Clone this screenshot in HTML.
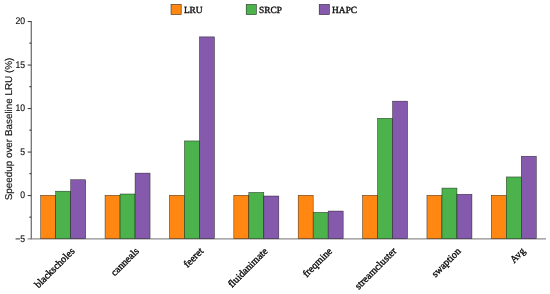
<!DOCTYPE html>
<html><head><meta charset="utf-8"><title>chart</title>
<style>
html,body{margin:0;padding:0;background:#fff;}
svg{display:block;text-rendering:geometricPrecision;}
.ax{font-family:"Liberation Sans",sans-serif;font-size:9.6px;fill:#111;stroke:#111;stroke-width:0.15px;}
.se{font-family:"Liberation Serif",serif;fill:#0a0a0a;stroke:#0a0a0a;stroke-width:0.35px;}
</style></head><body>
<svg width="550" height="294" viewBox="0 0 550 294">
<rect width="550" height="294" fill="#fff"/>
<line x1="27.6" y1="238.9" x2="546.0" y2="238.9" stroke="#8e8e8e" stroke-width="1.4"/>
<line x1="31.3" y1="20.9" x2="31.3" y2="239.3" stroke="#727272" stroke-width="1.3"/>
<line x1="27.7" y1="21.55" x2="31.3" y2="21.55" stroke="#444" stroke-width="1.1"/>
<line x1="29.4" y1="43.15" x2="31.3" y2="43.15" stroke="#444" stroke-width="1.2"/>
<text class="ax" transform="translate(25.1,24.05) scale(0.9,1)" text-anchor="end">20</text>
<line x1="27.7" y1="65.05" x2="31.3" y2="65.05" stroke="#444" stroke-width="1.1"/>
<line x1="29.4" y1="86.65" x2="31.3" y2="86.65" stroke="#444" stroke-width="1.2"/>
<text class="ax" transform="translate(25.1,67.55) scale(0.9,1)" text-anchor="end">15</text>
<line x1="27.7" y1="108.55" x2="31.3" y2="108.55" stroke="#444" stroke-width="1.1"/>
<line x1="29.4" y1="130.15" x2="31.3" y2="130.15" stroke="#444" stroke-width="1.2"/>
<text class="ax" transform="translate(25.1,111.05) scale(0.9,1)" text-anchor="end">10</text>
<line x1="27.7" y1="152.05" x2="31.3" y2="152.05" stroke="#444" stroke-width="1.1"/>
<line x1="29.4" y1="173.65" x2="31.3" y2="173.65" stroke="#444" stroke-width="1.2"/>
<text class="ax" transform="translate(25.1,154.55) scale(0.9,1)" text-anchor="end">5</text>
<line x1="27.7" y1="195.55" x2="31.3" y2="195.55" stroke="#444" stroke-width="1.1"/>
<line x1="29.4" y1="217.15" x2="31.3" y2="217.15" stroke="#444" stroke-width="1.2"/>
<text class="ax" transform="translate(25.1,198.05) scale(0.9,1)" text-anchor="end">0</text>
<text class="ax" transform="translate(25.1,241.55) scale(0.9,1)" text-anchor="end">−5</text>
<rect x="40.69" y="195.30" width="15.00" height="43.40" fill="#FF8712" stroke="#000" stroke-opacity="0.7" stroke-width="0.55"/>
<rect x="55.69" y="191.21" width="15.00" height="47.49" fill="#4BB24C" stroke="#000" stroke-opacity="0.7" stroke-width="0.55"/>
<rect x="70.69" y="179.73" width="15.00" height="58.97" fill="#855AAD" stroke="#000" stroke-opacity="0.7" stroke-width="0.55"/>
<rect x="105.06" y="195.30" width="15.00" height="43.40" fill="#FF8712" stroke="#000" stroke-opacity="0.7" stroke-width="0.55"/>
<rect x="120.06" y="194.00" width="15.00" height="44.70" fill="#4BB24C" stroke="#000" stroke-opacity="0.7" stroke-width="0.55"/>
<rect x="135.06" y="173.12" width="15.00" height="65.58" fill="#855AAD" stroke="#000" stroke-opacity="0.7" stroke-width="0.55"/>
<rect x="169.44" y="195.30" width="15.00" height="43.40" fill="#FF8712" stroke="#000" stroke-opacity="0.7" stroke-width="0.55"/>
<rect x="184.44" y="140.93" width="15.00" height="97.77" fill="#4BB24C" stroke="#000" stroke-opacity="0.7" stroke-width="0.55"/>
<rect x="199.44" y="36.87" width="15.00" height="201.83" fill="#855AAD" stroke="#000" stroke-opacity="0.7" stroke-width="0.55"/>
<rect x="233.81" y="195.30" width="15.00" height="43.40" fill="#FF8712" stroke="#000" stroke-opacity="0.7" stroke-width="0.55"/>
<rect x="248.81" y="192.43" width="15.00" height="46.27" fill="#4BB24C" stroke="#000" stroke-opacity="0.7" stroke-width="0.55"/>
<rect x="263.81" y="196.00" width="15.00" height="42.70" fill="#855AAD" stroke="#000" stroke-opacity="0.7" stroke-width="0.55"/>
<rect x="298.19" y="195.30" width="15.00" height="43.40" fill="#FF8712" stroke="#000" stroke-opacity="0.7" stroke-width="0.55"/>
<rect x="313.19" y="212.35" width="15.00" height="26.35" fill="#4BB24C" stroke="#000" stroke-opacity="0.7" stroke-width="0.55"/>
<rect x="328.19" y="211.05" width="15.00" height="27.65" fill="#855AAD" stroke="#000" stroke-opacity="0.7" stroke-width="0.55"/>
<rect x="362.56" y="195.30" width="15.00" height="43.40" fill="#FF8712" stroke="#000" stroke-opacity="0.7" stroke-width="0.55"/>
<rect x="377.56" y="118.31" width="15.00" height="120.39" fill="#4BB24C" stroke="#000" stroke-opacity="0.7" stroke-width="0.55"/>
<rect x="392.56" y="101.17" width="15.00" height="137.53" fill="#855AAD" stroke="#000" stroke-opacity="0.7" stroke-width="0.55"/>
<rect x="426.94" y="195.30" width="15.00" height="43.40" fill="#FF8712" stroke="#000" stroke-opacity="0.7" stroke-width="0.55"/>
<rect x="441.94" y="188.08" width="15.00" height="50.62" fill="#4BB24C" stroke="#000" stroke-opacity="0.7" stroke-width="0.55"/>
<rect x="456.94" y="194.26" width="15.00" height="44.44" fill="#855AAD" stroke="#000" stroke-opacity="0.7" stroke-width="0.55"/>
<rect x="491.31" y="195.30" width="15.00" height="43.40" fill="#FF8712" stroke="#000" stroke-opacity="0.7" stroke-width="0.55"/>
<rect x="506.31" y="176.94" width="15.00" height="61.76" fill="#4BB24C" stroke="#000" stroke-opacity="0.7" stroke-width="0.55"/>
<rect x="521.31" y="156.24" width="15.00" height="82.46" fill="#855AAD" stroke="#000" stroke-opacity="0.7" stroke-width="0.55"/>
<text class="ax" style="font-size:9.9px" transform="translate(11.6,129) rotate(-90)" text-anchor="middle">Speedup over Baseline LRU (%)</text>
<rect x="171" y="4.4" width="10.2" height="10.2" fill="#FF8712" stroke="#000" stroke-opacity="0.75" stroke-width="0.6"/>
<text class="se" style="font-size:9.4px" x="183.9" y="12.7">LRU</text>
<rect x="246.2" y="4.4" width="10.2" height="10.2" fill="#4BB24C" stroke="#000" stroke-opacity="0.75" stroke-width="0.6"/>
<text class="se" style="font-size:9.4px" x="259.09999999999997" y="12.7">SRCP</text>
<rect x="319.2" y="4.4" width="10.2" height="10.2" fill="#855AAD" stroke="#000" stroke-opacity="0.75" stroke-width="0.6"/>
<text class="se" style="font-size:9.4px" x="332.09999999999997" y="12.7">HAPC</text>
<text class="se" style="font-size:10.2px" transform="translate(75.19,251.70) rotate(-45)" text-anchor="end">blackscholes</text>
<text class="se" style="font-size:10.2px" transform="translate(139.56,251.70) rotate(-45)" text-anchor="end">canneals</text>
<text class="se" style="font-size:10.2px" transform="translate(203.94,251.70) rotate(-45)" text-anchor="end">feeret</text>
<text class="se" style="font-size:10.2px" transform="translate(268.31,251.70) rotate(-45)" text-anchor="end">fluidanimate</text>
<text class="se" style="font-size:10.2px" transform="translate(332.69,251.70) rotate(-45)" text-anchor="end">freqmine</text>
<text class="se" style="font-size:10.2px" transform="translate(397.06,251.70) rotate(-45)" text-anchor="end">streamcluster</text>
<text class="se" style="font-size:10.2px" transform="translate(461.44,251.70) rotate(-45)" text-anchor="end">swaption</text>
<text class="se" style="font-size:10.2px" transform="translate(525.81,251.70) rotate(-45)" text-anchor="end">Avg</text>
</svg>
</body></html>
